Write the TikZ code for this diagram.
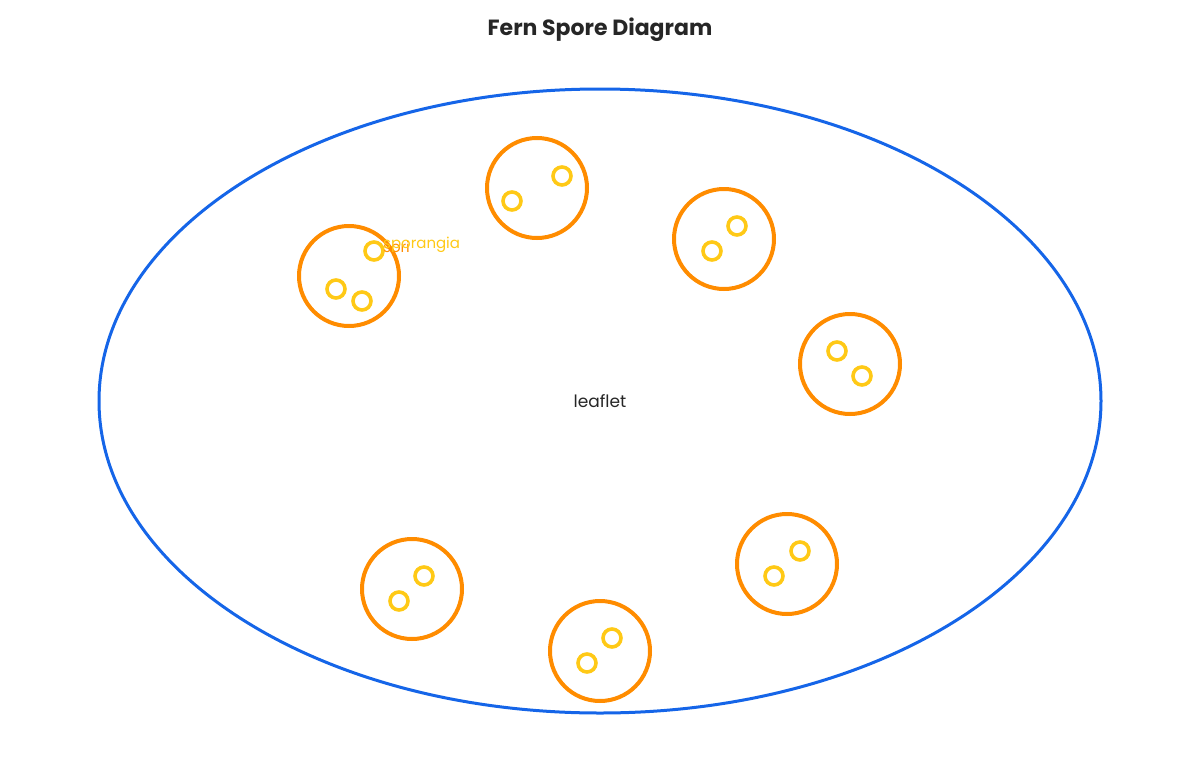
\documentclass[tikz,border=0pt]{standalone}
\usetikzlibrary{shapes.geometric}
\usepackage{fontspec}
\setmainfont{Poppins}
\begin{document}
\begin{tikzpicture}[x=1pt,y=-1pt,
 sorus/.style={draw=orange1,line width=4pt,circle,minimum size=100pt,inner sep=0},
 spor/.style={draw=yellow1,line width=3.6pt,circle,minimum size=18pt,inner sep=0}]
\definecolor{orange1}{HTML}{FF8C00}
\definecolor{yellow1}{HTML}{FFC916}
\definecolor{blue1}{HTML}{1565E8}
\useasboundingbox (0,0) rectangle (1200,763);
\node[font=\bfseries\fontsize{22}{26}\selectfont,text=black!85] (title) at (600,30) {Fern Spore Diagram};
\node[draw=blue1,line width=3pt,ellipse,minimum width=1002pt,minimum height=624pt,inner sep=0] (leaf) at (600,401) {};
\node[font=\fontsize{17}{20}\selectfont,text=black!85] (lbl) at (600,401) {leaflet};
\foreach \n/\x/\y in {a/537/188,b/724/239,c/850/364,d/787/564,e/600/651,f/412/589,g/349/276}
  \node[sorus] (\n) at (\x,\y) {};
\foreach \n/\x/\y in {a1/512/201,a2/562/176,b1/712/251,b2/737/226,c1/837/351,c2/862/376,d1/774/576,d2/800/551,e1/587/663,e2/612/638,f1/399/601,f2/424/576,g1/336/289,g2/362/301,g3/374/251}
  \node[spor] (\n) at (\x,\y) {};
\node[font=\fontsize{15}{18}\selectfont,text=orange1,anchor=west,inner sep=0] (sori) at (383,247) {sori};
\node[font=\fontsize{15}{18}\selectfont,text=yellow1,anchor=west,inner sep=0] (spl) at (383,245) {sporangia};
\end{tikzpicture}
\end{document}
